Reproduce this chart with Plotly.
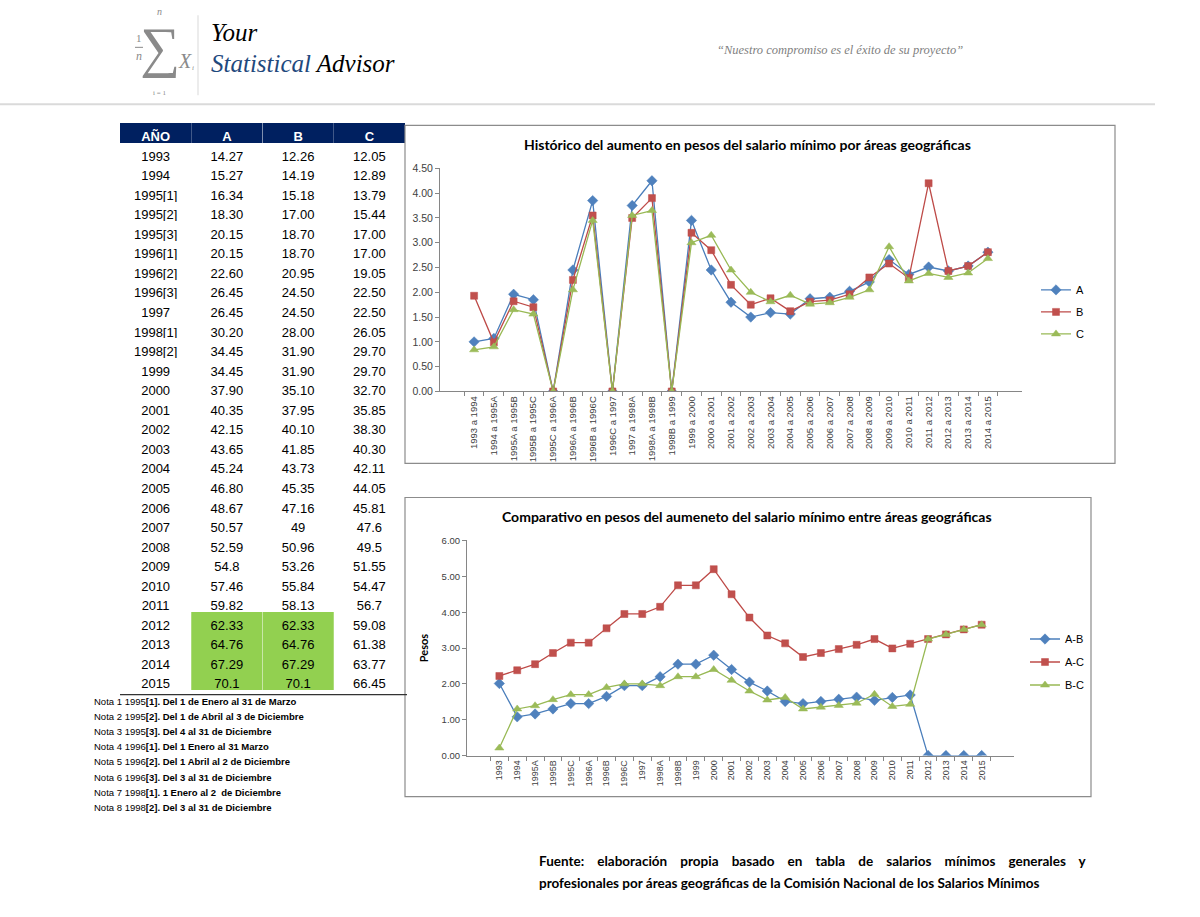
import plotly.graph_objects as go

W, H = 1200, 917

# ---------------- data ----------------
table_years = ["1993", "1994", "1995[1]", "1995[2]", "1995[3]",
               "1996[1]", "1996[2]", "1996[3]", "1997",
               "1998[1]", "1998[2]", "1999", "2000", "2001", "2002",
               "2003", "2004", "2005", "2006", "2007", "2008", "2009", "2010",
               "2011", "2012", "2013", "2014", "2015"]
table_A = ["14.27", "15.27", "16.34", "18.30", "20.15", "20.15", "22.60", "26.45", "26.45",
           "30.20", "34.45", "34.45", "37.90", "40.35", "42.15", "43.65", "45.24", "46.80",
           "48.67", "50.57", "52.59", "54.8", "57.46", "59.82", "62.33", "64.76", "67.29", "70.1"]
table_B = ["12.26", "14.19", "15.18", "17.00", "18.70", "18.70", "20.95", "24.50", "24.50",
           "28.00", "31.90", "31.90", "35.10", "37.95", "40.10", "41.85", "43.73", "45.35",
           "47.16", "49", "50.96", "53.26", "55.84", "58.13", "62.33", "64.76", "67.29", "70.1"]
table_C = ["12.05", "12.89", "13.79", "15.44", "17.00", "17.00", "19.05", "22.50", "22.50",
           "26.05", "29.70", "29.70", "32.70", "35.85", "38.30", "40.30", "42.11", "44.05",
           "45.81", "47.6", "49.5", "51.55", "54.47", "56.7", "59.08", "61.38", "63.77", "66.45"]
highlight_rows = ["2012", "2013", "2014", "2015"]

periods = ["1993 a 1994", "1994 a 1995A", "1995A a 1995B", "1995B a 1995C", "1995C a 1996A",
           "1996A a 1996B", "1996B a 1996C", "1996C a 1997", "1997 a 1998A", "1998A a 1998B",
           "1998B a 1999", "1999 a 2000", "2000 a 2001", "2001 a 2002", "2002 a 2003",
           "2003 a 2004", "2004 a 2005", "2005 a 2006", "2006 a 2007", "2007 a 2008",
           "2008 a 2009", "2009 a 2010", "2010 a 2011", "2011 a 2012", "2012 a 2013",
           "2013 a 2014", "2014 a 2015"]
inc_A = [1.00, 1.07, 1.96, 1.85, 0.00, 2.45, 3.85, 0.00, 3.75, 4.25, 0.00, 3.45, 2.45, 1.80,
         1.50, 1.59, 1.56, 1.87, 1.90, 2.02, 2.21, 2.66, 2.36, 2.51, 2.43, 2.53, 2.81]
inc_B = [1.93, 0.99, 1.82, 1.70, 0.00, 2.25, 3.55, 0.00, 3.50, 3.90, 0.00, 3.20, 2.85, 2.15,
         1.75, 1.88, 1.62, 1.81, 1.84, 1.96, 2.30, 2.58, 2.29, 4.20, 2.43, 2.53, 2.81]
inc_C = [0.84, 0.90, 1.65, 1.56, 0.00, 2.05, 3.45, 0.00, 3.55, 3.65, 0.00, 3.00, 3.15, 2.45,
         2.00, 1.81, 1.94, 1.76, 1.79, 1.90, 2.05, 2.92, 2.23, 2.38, 2.30, 2.39, 2.68]

years2 = ["1993", "1994", "1995A", "1995B", "1995C", "1996A", "1996B", "1996C", "1997",
          "1998A", "1998B", "1999", "2000", "2001", "2002", "2003", "2004", "2005", "2006",
          "2007", "2008", "2009", "2010", "2011", "2012", "2013", "2014", "2015"]
diff_AB = [2.01, 1.08, 1.16, 1.30, 1.45, 1.45, 1.65, 1.95, 1.95, 2.20, 2.55, 2.55, 2.80, 2.40,
           2.05, 1.80, 1.51, 1.45, 1.51, 1.57, 1.63, 1.54, 1.62, 1.69, 0.00, 0.00, 0.00, 0.00]
diff_AC = [2.22, 2.38, 2.55, 2.86, 3.15, 3.15, 3.55, 3.95, 3.95, 4.15, 4.75, 4.75, 5.20, 4.50,
           3.85, 3.35, 3.13, 2.75, 2.86, 2.97, 3.09, 3.25, 2.99, 3.12, 3.25, 3.38, 3.52, 3.65]
diff_BC = [0.21, 1.30, 1.39, 1.56, 1.70, 1.70, 1.90, 2.00, 2.00, 1.95, 2.20, 2.20, 2.40, 2.10,
           1.80, 1.55, 1.62, 1.30, 1.35, 1.40, 1.46, 1.71, 1.37, 1.43, 3.25, 3.38, 3.52, 3.65]

notes_lead = ["Nota 1", "Nota 2", "Nota 3", "Nota 4", "Nota 5", "Nota 6", "Nota 7", "Nota 8"]
notes_year = ["1995", "1995", "1995", "1996", "1996", "1996", "1998", "1998"]
notes_text = ["[1]. Del 1 de Enero al 31 de Marzo",
              "[2]. Del 1 de Abril al 3 de Diciembre",
              "[3]. Del 4 al 31 de Diciembre",
              "[1]. Del 1 Enero al 31 Marzo",
              "[2]. Del 1 Abril al 2 de Diciembre",
              "[3]. Del 3 al 31 de Diciembre",
              "[1]. 1 Enero al 2  de Diciembre",
              "[2]. Del 3 al 31 de Diciembre"]

# ---------------- helpers ----------------
VS, VO = 0.9866, 5.68   # vertical calibration of the photographed page


def px(x):
    return x / W


def py(y):
    return 1 - ((y - VO) / VS) / H


BLUE, RED, GREEN = "#4A7EBB", "#BE4B48", "#98B954"
TXT = "Liberation Sans"
TITLE_FONT = "Lato"

fig = go.Figure()

# ---------------- table ----------------
n_rows = len(table_years)
fill_year = ["white"] * n_rows
fill_ab = ["#92D050" if table_years[i] in highlight_rows else "white" for i in range(n_rows)]
fig.add_trace(go.Table(
    domain=dict(x=[px(120), px(405)], y=[py(705), py(122.5)]),
    columnwidth=[1, 1, 1, 1],
    header=dict(values=["AÑO", "A", "B", "C"],
                fill_color="#002060", align="center", height=20,
                font=dict(family=TXT, size=13, color="white", weight="bold"),
                line=dict(width=0, color="rgba(0,0,0,0)")),
    cells=dict(values=[table_years, table_A, table_B, table_C],
               fill_color=[fill_year, fill_ab, fill_ab, fill_year],
               align="center", height=19.55,
               font=dict(family=TXT, size=13, color="black"),
               line=dict(width=0, color="rgba(0,0,0,0)")),
))

# ---------------- charts ----------------
mk = dict(A=dict(symbol="diamond", size=8, color="#4F81BD", line=dict(color=BLUE, width=0.5)),
          B=dict(symbol="square", size=7, color="#C0504D", line=dict(color=RED, width=0.5)),
          C=dict(symbol="triangle-up", size=8, color="#9BBB59", line=dict(color=GREEN, width=0.5)))

for name, ys, col in [("A", inc_A, BLUE), ("B", inc_B, RED), ("C", inc_C, GREEN)]:
    fig.add_trace(go.Scatter(x=periods, y=ys, mode="lines+markers", name=name,
                             line=dict(color=col, width=1.3), marker=mk[name],
                             xaxis="x", yaxis="y", legend="legend", legendgroup="g1" + name))

for name, ys, col, m in [("A-B", diff_AB, BLUE, "A"), ("A-C", diff_AC, RED, "B"),
                         ("B-C", diff_BC, GREEN, "C")]:
    fig.add_trace(go.Scatter(x=years2, y=ys, mode="lines+markers", name=name,
                             line=dict(color=col, width=1.3), marker=mk[m],
                             xaxis="x2", yaxis="y2", legend="legend2", legendgroup="g2" + name))

axis_common = dict(showgrid=False, zeroline=False, showline=True, linecolor="#868686",
                   linewidth=1, ticks="outside", tickcolor="#868686", ticklen=4)

fig.update_layout(
    width=W, height=H, margin=dict(l=0, r=0, t=0, b=0),
    paper_bgcolor="white", plot_bgcolor="white",
    xaxis=dict(domain=[px(440), px(1022)], anchor="y", type="category", tickangle=-90,
               tickson="boundaries", tickfont=dict(family=TXT, size=9.5, color="#404040"),
               **axis_common),
    yaxis=dict(domain=[py(391), py(168)], anchor="x", range=[0, 4.5], dtick=0.5,
               tickformat=".2f", tickfont=dict(family=TXT, size=10.5, color="#404040"),
               **axis_common),
    xaxis2=dict(domain=[px(467), px(1014)], anchor="y2", type="category", tickangle=-90,
                tickson="boundaries", tickfont=dict(family=TXT, size=9, color="#404040"),
                **axis_common),
    yaxis2=dict(domain=[py(755), py(540)], anchor="x2", range=[0, 6], dtick=1,
                tickformat=".2f", tickfont=dict(family=TXT, size=9.5, color="#404040"),
                title=dict(text="<b>Pesos</b>", standoff=10,
                           font=dict(family=TITLE_FONT, size=11, color="black")),
                **axis_common),
    legend=dict(x=px(1036), y=py(275), xanchor="left", yanchor="top", tracegroupgap=3,
                font=dict(family=TXT, size=11, color="black"), bgcolor="rgba(0,0,0,0)",
                itemwidth=30),
    legend2=dict(x=px(1025), y=py(624), xanchor="left", yanchor="top", tracegroupgap=4,
                 font=dict(family=TXT, size=11, color="black"), bgcolor="rgba(0,0,0,0)",
                 itemwidth=30),
    showlegend=True,
)

shapes = []
shapes.append(dict(type="rect", xref="paper", yref="paper", x0=px(405), x1=px(1115),
                   y0=py(463), y1=py(125), line=dict(color="#8C8C8C", width=1.2)))
shapes.append(dict(type="rect", xref="paper", yref="paper", x0=px(405), x1=px(1091),
                   y0=py(796), y1=py(497), line=dict(color="#8C8C8C", width=1.2)))
shapes.append(dict(type="line", xref="paper", yref="paper", x0=px(120), x1=px(407),
                   y0=py(694), y1=py(694), line=dict(color="#333333", width=1.2)))
shapes.append(dict(type="line", xref="paper", yref="paper", x0=0, x1=px(1155),
                   y0=py(104), y1=py(104), line=dict(color="#DADADA", width=2)))
shapes.append(dict(type="line", xref="paper", yref="paper", x0=px(198), x1=px(198),
                   y0=py(95), y1=py(15), line=dict(color="#E6E6E6", width=1.5)))
shapes.append(dict(type="line", xref="paper", yref="paper", x0=px(135), x1=px(143),
                   y0=py(47), y1=py(47), line=dict(color="#8A8A8A", width=1)))
fig.update_layout(shapes=shapes)

ann = []
def text(x, y, s, size, color="black", family=TXT, xanchor="left", yanchor="middle", **kw):
    ann.append(dict(x=px(x), y=py(y), xref="paper", yref="paper", text=s, showarrow=False,
                    xanchor=xanchor, yanchor=yanchor,
                    font=dict(size=size, color=color, family=family), **kw))

text(747, 144, "<b>Histórico del aumento en pesos del salario mínimo por áreas geográficas</b>",
     14, family=TITLE_FONT, xanchor="center")
text(747, 516, "<b>Comparativo en pesos del aumeneto del salario mínimo entre áreas geográficas</b>",
     14, family=TITLE_FONT, xanchor="center")

# logo
SERIF = "Liberation Serif"
GR = "#8A8A8A"
text(139, 38, "1", 11, GR, SERIF, xanchor="center")
text(139, 56, "<i>n</i>", 12, GR, SERIF, xanchor="center")
text(160, 47, "∑", 56, GR, SERIF, xanchor="center")
text(159, 11, "<i>n</i>", 10, GR, SERIF, xanchor="center")
text(159, 93, "i = 1", 7, GR, SERIF, xanchor="center")
text(176, 61, "<i>X</i>", 20, GR, SERIF, xanchor="left")
text(190, 68, "<i>i</i>", 7, GR, SERIF, xanchor="left")
text(209, 32, "<i>Your</i>", 25, "black", SERIF)
text(209, 63, "<i><span style='color:#1F497D'>Statistical</span> Advisor</i>", 25, "black", SERIF)
text(840, 50, "<i>“Nuestro compromiso es el éxito de su proyecto”</i>", 12.5, "#7F7F7F", SERIF,
     xanchor="center")

# notes
for i in range(len(notes_lead)):
    text(92, 701 + i * 15.1,
         notes_lead[i] + " " + notes_year[i] + "<b>" + notes_text[i] + "</b>", 9.5, "black", TXT)

# footer
text(537, 860, "<b>Fuente:    elaboración    propia    basado    en    tabla    de    salarios    mínimos    generales    y</b>",
     13.5, "black", TITLE_FONT)
text(537, 882, "<b>profesionales por áreas geográficas de la Comisión Nacional de los Salarios Mínimos</b>",
     13.5, "black", TITLE_FONT)

fig.update_layout(annotations=ann)
post = ("var d=document.getElementById('{plot_id}');"
        "d.style.position='fixed';d.style.top='0px';d.style.left='0px';"
        "document.body.style.margin='0';document.body.style.overflow='hidden';"
        "document.documentElement.style.overflow='hidden';")
fig.write_html("out.html", config={"displayModeBar": False}, post_script=post)
